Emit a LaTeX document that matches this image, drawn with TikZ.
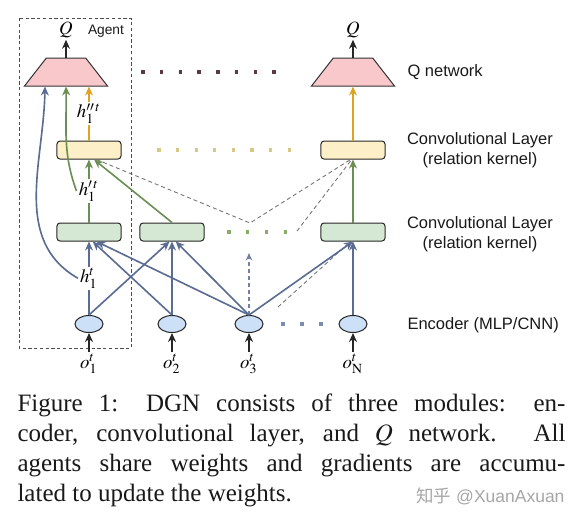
\documentclass[tikz,border=0pt]{standalone}
\usepackage{mathptmx}
\usepackage{fontspec}
\setmainfont{Liberation Serif}
\setsansfont{Liberation Sans}
\newfontfamily\cjk{Noto Sans CJK SC}
\usetikzlibrary{shapes.geometric, arrows.meta, positioning, calc}
\definecolor{qfill}{HTML}{F8C8CB}
\definecolor{yfill}{HTML}{FDEFC8}
\definecolor{gfill}{HTML}{D5E8D4}
\definecolor{efill}{HTML}{CCE0F8}
\definecolor{bline}{HTML}{5A6C92}
\definecolor{gline}{HTML}{6B8F52}
\definecolor{yline}{HTML}{DDA322}
\definecolor{qdot}{HTML}{5C3A3F}
\definecolor{ydot}{HTML}{D6C985}
\definecolor{gdot}{HTML}{86AE67}
\definecolor{edot}{HTML}{7A8DB0}

\begin{document}
\begin{tikzpicture}[x=0.4pt, y=-0.4pt,
  qnet/.style={trapezium,trapezium angle=61,trapezium stretches=true,draw=black!80,fill=qfill,minimum width=33.2pt,minimum height=11.2pt,inner sep=1pt,line width=0.4pt},
  relbox/.style={rectangle,draw=black!85,fill=yfill,rounded corners=1.2pt,minimum width=25.6pt,minimum height=7.2pt,inner sep=0pt,line width=0.4pt},
  convbox/.style={relbox,fill=gfill},
  enc/.style={ellipse,draw=black!85,fill=efill,minimum width=11.2pt,minimum height=6.8pt,inner sep=0pt,line width=0.4pt},
  karrow/.style={-{Stealth[length=3.6pt,width=3.2pt]},line width=0.7pt,black!85},
  barrow/.style={-{Stealth[length=3.6pt,width=3.2pt]},line width=0.65pt,bline},
  garrow/.style={-{Stealth[length=3.6pt,width=3.2pt]},line width=0.65pt,gline},
  yarrow/.style={-{Stealth[length=3.6pt,width=3.2pt]},line width=0.55pt,yline},
  bdash/.style={-{Stealth[length=3pt,width=2.6pt]},dash pattern=on 1.6pt off 1.2pt,line width=0.45pt,bline!85},
  gdash/.style={dash pattern=on 1.6pt off 1.2pt,line width=0.35pt,black!55},
  hlbl/.style={fill=white,text=black,inner sep=0.6pt,font=\fontsize{7.5}{8}\selectfont,midway},
  olbl/.style={inner sep=0.5pt,text=black,font=\fontsize{7.5}{8}\selectfont},
  side/.style={font=\sffamily\fontsize{6.6}{8}\selectfont,inner sep=0pt,black!90},
  agentbox/.style={draw=black!70,dash pattern=on 1.3pt off 1pt,line width=0.35pt}
]
  \useasboundingbox (0,0) rectangle (575,516);
  \draw[agentbox] (19,18) rectangle (131,348);
  \node[side,font=\sffamily\fontsize{5.5}{6}\selectfont](ag) at (106,31) {Agent};

  \node[qnet](q1) at (66,72) {};
  \node[qnet](qN) at (353,72) {};
  \node[olbl](qo1) at (66,30) {$Q$};
  \node[olbl](qoN) at (353,30) {$Q$};

  \node[relbox](y1) at (89,150) {};
  \node[relbox](yN) at (353,150) {};

  \node[convbox](c1) at (89,232) {};
  \node[convbox](c2) at (172,232) {};
  \node[convbox](cN) at (353,232) {};

  \node[enc](e1) at (89,324) {};
  \node[enc](e2) at (172,324) {};
  \node[enc](e3) at (249,324) {};
  \node[enc](eN) at (353,324) {};

  \node[olbl](o1) at (89,364) {$o_1^t$};
  \node[olbl](o2) at (172,364) {$o_2^t$};
  \node[olbl](o3) at (249,364) {$o_3^t$};
  \node[olbl](oN) at (353,364) {$o_{\mathrm{N}}^t$};

  \coordinate (c3) at (249,253);
  \coordinate (v3) at (250,223);
  \coordinate (d3) at (297,231);
  \coordinate (dN) at (278,307);

  \foreach \x in {143,161.7,...,276} \fill[qdot] (\x-1.7,70.3) rectangle ++(3.4,3.4);
  \foreach \x in {159,177.6,...,291} \fill[ydot] (\x-1.6,148.4) rectangle ++(3.2,3.2);
  \foreach \x in {229,247.7,...,287} \fill[gdot] (\x-1.6,230.4) rectangle ++(3.2,3.2);
  \foreach \x in {283,302,321} \fill[edot] (\x-1.6,322.4) rectangle ++(3.2,3.2);

  \draw[karrow](o1) -- (e1);
  \draw[karrow](o2) -- (e2);
  \draw[karrow](o3) -- (e3);
  \draw[karrow](oN) -- (eN);
  \draw[karrow](q1.north) -- (qo1);
  \draw[karrow](qN.north) -- (qoN);

  \draw[gdash](dN) -- ([xshift=-1pt]cN.south);
  \draw[gdash]([xshift=3pt]y1.south) -- (v3) -- ([xshift=-1pt]yN.south);
  \draw[gdash](d3) -- ([xshift=-0.5pt]yN.south);
  \draw[bdash](e3) -- (c3);

  \draw[barrow](e1) -- node[hlbl](h1){$h_1^t$} (c1);
  \draw[barrow](e1.north) -- ([xshift=-1pt]c2.south);
  \draw[barrow](e2.north) -- ([xshift=1.5pt]c1.south);
  \draw[barrow](e2) -- (c2);
  \draw[barrow](e3.north) -- ([xshift=3pt]c1.south);
  \draw[barrow](e3.north) -- ([xshift=1.5pt]c2.south);
  \draw[barrow](e3.north) -- (cN.south);
  \draw[barrow](eN) -- (cN);
  \draw[barrow](h1.west) to[out=150, in=-91] ([xshift=-8.4pt]q1.south);

  \draw[garrow](c1) -- node[hlbl](h2){$h_1^{\prime\,t}$} (y1);
  \draw[garrow](c2.north) -- ([xshift=2pt]y1.south);
  \draw[garrow](cN) -- (yN);
  \draw[garrow](h2.west) to[out=110, in=-89] (q1.south);

  \draw[yarrow](y1) -- node[hlbl](h3){$h_1^{\prime\prime\,t}$} (y1 |- q1.south);
  \draw[yarrow](yN) -- (qN);

  \node[side,anchor=west](lq) at (407,72) {Q network};
  \node[side,align=center](ly) at (480,150) {Convolutional Layer\\(relation kernel)};
  \node[side,align=center](lc) at (480,234) {Convolutional Layer\\(relation kernel)};
  \node[side,anchor=west](le) at (407,325) {Encoder (MLP/CNN)};

  \node[anchor=north west,text width=219.2pt,align=justify,inner sep=0pt,font=\fontsize{10}{12}\selectfont,black!90](cap) at (17,393) {Figure 1: DGN consists of three modules: en-\linebreak coder, convolutional layer, and $Q$ network. All\linebreak agents share weights and gradients are accumu-\linebreak lated to update the weights.};
  \node[anchor=east,inner sep=0pt,font=\sffamily\fontsize{7}{8}\selectfont,black!35](wm) at (565,496) {{\cjk 知乎} @XuanAxuan};
\end{tikzpicture}
\end{document}
